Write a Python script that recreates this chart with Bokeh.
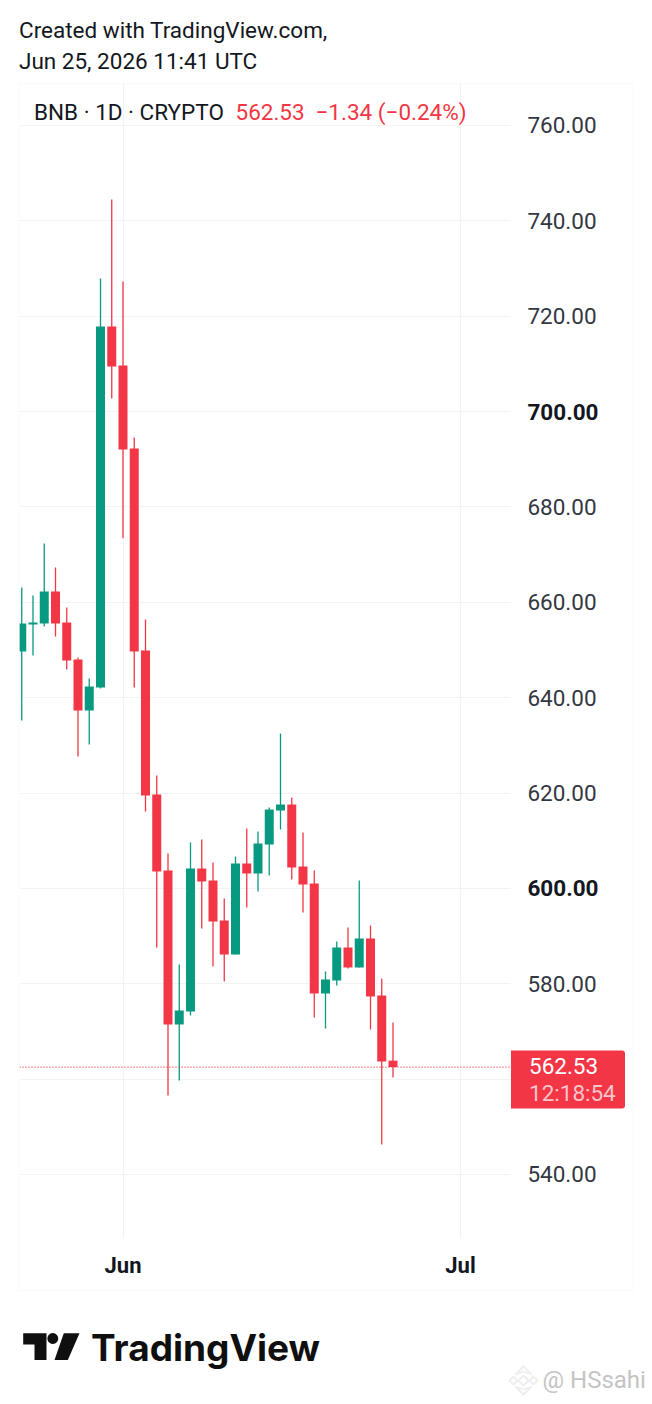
import math
from bokeh.embed import file_html
from bokeh.resources import INLINE
from bokeh.plotting import figure
from bokeh.models import (FixedTicker, Label, BoxAnnotation, PolyAnnotation, ColumnDataSource,
                          LinearAxis, Grid, NumeralTickFormatter)

# Days relative to Jun 1 2026 (1D candles, May 23 .. Jun 25)
days = list(range(-9, 25))
opens = [649.68, 655.34, 655.55, 662.27, 655.76, 648.00, 637.31, 642.13, 717.84, 709.66, 692.26, 649.89,
         619.69, 603.75, 571.45, 574.18, 604.17, 601.65, 593.26, 586.13, 605.22, 603.12, 609.20, 616.33,
         617.59, 604.59, 601.02, 577.95, 580.68, 587.60, 583.41, 589.49, 577.53, 563.87]
closes = [655.55, 655.76, 662.27, 655.55, 647.79, 637.31, 642.34, 717.84, 709.46, 692.05, 649.68, 619.48,
          603.54, 571.45, 574.39, 604.17, 601.44, 593.05, 586.13, 605.22, 603.12, 609.41, 616.54, 617.59,
          604.38, 600.81, 577.95, 580.89, 587.60, 583.41, 589.49, 577.33, 563.69, 562.53]
highs = [663.10, 661.43, 672.33, 667.30, 658.91, 648.42, 644.02, 727.91, 744.48, 727.28, 694.56, 656.39,
         623.68, 607.32, 584.04, 609.62, 610.25, 605.43, 597.88, 606.69, 612.56, 611.93, 616.96, 632.48,
         619.06, 611.72, 603.75, 582.57, 588.86, 591.80, 601.65, 592.22, 581.10, 571.87]
lows = [635.21, 648.84, 654.93, 652.83, 645.91, 627.66, 630.18, 641.92, 702.74, 673.44, 642.13, 616.13,
        587.60, 556.56, 559.71, 573.34, 591.59, 583.62, 580.47, 586.13, 595.99, 599.35, 602.70, 612.35,
        601.86, 594.94, 572.92, 570.61, 579.63, 583.20, 583.41, 570.40, 546.29, 560.34]
regular_ticks = [760, 740, 720, 680, 660, 640, 620, 580, 560, 540]
bold_ticks = [700, 600]
price_ticks = regular_ticks + bold_ticks
month_ticks = [0, 30]
month_labels = ["Jun", "Jul"]
last_price = 562.53

GREEN = "#089981"
RED = "#F23645"
GRID = "#F3F3F3"
INK = "#131722"
FONT = "Roboto"

W, H = 652, 1404
X_PLOT = (-9.2, 34.44)        # days covered by the plotting pane
Y_PLOT = (526.57, 768.81)     # prices covered by the plotting pane


def sy(y):  # page y to annotation screen units, which run up from the bottom
    return H - y


p = figure(width=W, height=H, output_backend="svg", toolbar_location=None,
           x_range=(-10.889, 47.067), y_range=(491.755, 786.216),
           x_axis_location=None, y_axis_location=None, min_border=0)
p.outline_line_color = None
p.background_fill_color = "white"
p.border_fill_color = "white"
p.grid.visible = False

p.add_layout(Grid(dimension=0, ticker=FixedTicker(ticks=month_ticks), cross_bounds=Y_PLOT,
                  grid_line_color=GRID, grid_line_width=1))
p.add_layout(Grid(dimension=1, ticker=FixedTicker(ticks=price_ticks), cross_bounds=X_PLOT,
                  grid_line_color=GRID, grid_line_width=1))


def style_axis(ax, size, color, bold, standoff):
    ax.axis_line_color = None
    ax.major_tick_line_color = None
    ax.minor_tick_line_color = None
    ax.major_label_text_font = FONT
    ax.major_label_text_font_size = size
    ax.major_label_text_color = color
    ax.major_label_text_font_style = "bold" if bold else "normal"
    ax.major_label_standoff = standoff


xa = LinearAxis(ticker=FixedTicker(ticks=month_ticks), fixed_location=Y_PLOT[0],
                major_label_overrides=dict(zip(month_ticks, month_labels)))
style_axis(xa, "22px", INK, True, 8)
p.add_layout(xa, "below")

for ticks, color, bold in ((regular_ticks, "#333742", False), (bold_ticks, INK, True)):
    ya = LinearAxis(ticker=FixedTicker(ticks=ticks), fixed_location=X_PLOT[1],
                    formatter=NumeralTickFormatter(format="0.00"))
    style_axis(ya, "22.5px", color, bold, 11)
    p.add_layout(ya, "right")

# Candles
src = ColumnDataSource(dict(
    x=days, o=opens, c=closes, h=highs, l=lows,
    top=[max(a, b) for a, b in zip(opens, closes)],
    bot=[min(a, b) for a, b in zip(opens, closes)],
    col=[GREEN if b >= a else RED for a, b in zip(opens, closes)],
))
p.segment("x", "h", "x", "l", source=src, line_color="col", line_width=1.3)
p.vbar("x", 0.8, "bot", "top", source=src, fill_color="col", line_color=None)

# Last price line
p.segment([X_PLOT[0]], [last_price], [X_PLOT[1]], [last_price], line_color=RED, line_dash="1 2", line_width=1.2)


def lab(text, x, y, size, color=INK, style="normal", alpha=1.0, font=FONT):
    p.add_layout(Label(x=x, y=sy(y), x_units="screen", y_units="screen",
                       text=text, text_font=font, text_font_size=size, text_color=color,
                       text_font_style=style, text_alpha=alpha, text_align="left", text_baseline="middle"))


def box(left, right, top, bottom, **kw):
    p.add_layout(BoxAnnotation(left=left, right=right, top=sy(top), bottom=sy(bottom),
                               left_units="screen", right_units="screen", top_units="screen",
                               bottom_units="screen", **kw))


def poly(pts, **kw):
    p.add_layout(PolyAnnotation(xs=[a for a, _ in pts], ys=[sy(b) for _, b in pts],
                                xs_units="screen", ys_units="screen", **kw))


# White cover left of the pane: the first candle is cut there, then the chart frame
box(0, 19, 83, 1290, fill_color="white", fill_alpha=1, line_color=None)
box(19, 633, 83, 1290, fill_alpha=0, line_color="#EFEFEF", line_width=1)

# Price tag box
box(510.5, 624.5, 1050, 1108, fill_color=RED, fill_alpha=1, line_color=None, border_radius=(0, 3, 3, 0))
lab("562.53", 528.5, 1065, "22.5px", color="white")
lab("12:18:54", 528.5, 1092, "22.5px", color="white", alpha=0.72)

# Header
lab("Created with TradingView.com,", 18.5, 29, "22.5px")
lab("Jun 25, 2026 11:41 UTC", 18.5, 60, "22.5px")
lab("BNB · 1D · CRYPTO", 33.5, 111, "22.5px")
lab("562.53", 235, 111, "22.5px", color=RED)
lab("−1.34 (−0.24%)", 315, 111, "22.5px", color=RED)

# TradingView logo: mark and wordmark
LOGO = "#0F0F0F"
logo_kw = dict(fill_color=LOGO, fill_alpha=1, line_color=None)
poly([(22.7, 1332.7), (46, 1332.7), (46, 1359.5), (34, 1359.5), (34, 1344), (22.7, 1344)], **logo_kw)
poly([(52.3 + 5.4 * math.cos(a * math.pi / 12), 1338 + 5.4 * math.sin(a * math.pi / 12)) for a in range(24)], **logo_kw)
poly([(63.3, 1332.7), (79, 1332.7), (67.3, 1359.5), (54, 1359.5)], **logo_kw)
lab("TradingView", 90.5, 1347, "37px", color=LOGO, style="bold", font="Inter")

# Watermark: diamond icon and handle
MARK = "#C8C8C8"
mark_kw = dict(fill_alpha=0, line_color=MARK, line_width=1.8)
cx, cy = 523, 1380
poly([(cx, cy - 5), (cx + 5, cy), (cx, cy + 5), (cx - 5, cy)], **mark_kw)
poly([(cx - 8, cy - 6), (cx, cy - 14), (cx + 8, cy - 6), (cx, cy - 9)], **mark_kw)
poly([(cx - 8, cy + 6), (cx, cy + 14), (cx + 8, cy + 6), (cx, cy + 9)], **mark_kw)
poly([(cx - 14, cy), (cx - 10, cy - 4), (cx - 6, cy), (cx - 10, cy + 4)], **mark_kw)
poly([(cx + 14, cy), (cx + 10, cy - 4), (cx + 6, cy), (cx + 10, cy + 4)], **mark_kw)
lab("@ HSsahi", 542, 1379, "24px", color="#C4C4C4")

open("out.html", "w").write(file_html(p, INLINE))
